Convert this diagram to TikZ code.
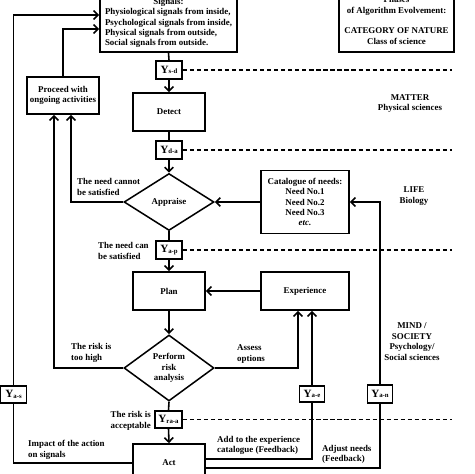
\documentclass[tikz,border=0pt]{standalone}
\usepackage{fontspec}
\setmainfont{Liberation Serif}
\usetikzlibrary{arrows.meta,shapes.geometric}
\newdimen\pxu \pxu=0.3mm
\newcommand\Ylab[1]{{\fontsize{9.5}{10}\selectfont Y}\raisebox{-0.6pt}{\fontsize{5.8}{6}\selectfont #1}}
\tikzset{
  every node/.style={font=\fontsize{7.6}{8.9}\selectfont\bfseries},
  box/.style={draw, line width=1.4pt, inner sep=0pt, minimum width=72\pxu, minimum height=38\pxu, align=center},
  ybox/.style={draw, line width=1.3pt, inner sep=0pt, minimum width=26\pxu, minimum height=18\pxu},
  decide/.style={draw, diamond, line width=1.3pt, inner sep=0pt, align=center},
  link/.style={line width=1.35pt},
  arr/.style={link, -{Straight Barb[length=3.8pt,width=7.5pt]}},
  phase/.style={line width=0.9pt, dash pattern=on 3.6pt off 2.4pt},
  lbl/.style={align=left, inner sep=0pt},
}
\begin{document}
\begin{tikzpicture}[x=0.3mm, y=-0.3mm]
  \clip (0,0) rectangle (474,474);
  \fill [white] (0,0) rectangle (474,474);

  % Boxes of the loop
  \node (signals) [box, minimum width=137\pxu, minimum height=58\pxu] at (168.5,23)
    {\begin{tabular}{@{}l@{}}\multicolumn{1}{@{}c@{}}{Signals:}\\
      Physiological signals from inside,\\
      Psychological signals from inside,\\
      Physical signals from outside,\\
      Social signals from outside.\end{tabular}};
  \node (phases) [box, minimum width=115\pxu, minimum height=63\pxu] at (396.5,20.5)
    {Phases\\of Algorithm Evolvement:\\[8.9pt]CATEGORY OF NATURE\\Class of science};
  \node (ysd) [ybox] at (169,70) {\Ylab{s-d}};
  \node (detect) [box] at (169,112) {Detect};
  \node (yda) [ybox] at (169,150) {\Ylab{d-a}};
  \node (appraise) [decide, minimum width=90\pxu, minimum height=57\pxu] at (169,202) {Appraise};
  \node (needs) [box, minimum width=88\pxu, minimum height=63\pxu] at (305,202)
    {Catalogue of needs:\\Need No.1\\Need No.2\\Need No.3\\\textit{etc.}};
  \node (yap) [ybox] at (169,250) {\Ylab{a-p}};
  \node (plan) [box] at (169,291) {Plan};
  \node (experience) [box, minimum width=88\pxu] at (305,291) {Experience};
  \node (proceed) [box, minimum height=37\pxu] at (63,95.5) {Proceed with\\ongoing activities};
  \node (risk) [decide, minimum width=90\pxu, minimum height=66\pxu] at (169,368) {Perform\\risk\\analysis};
  \node (yraa) [ybox, minimum width=27\pxu, minimum height=17\pxu] at (168.5,419.5) {\Ylab{ra-a}};
  \node (act) [box] at (169,463) {Act};
  \node (yas) [ybox, minimum height=17\pxu] at (13.5,394.5) {\Ylab{a-s}};
  \node (yae) [ybox, minimum width=25\pxu, minimum height=16\pxu] at (312,394) {\Ylab{a-e}};
  \node (yan) [ybox, minimum width=25\pxu] at (380,394) {\Ylab{a-n}};

  % Categories of nature
  \node [align=center] at (410,103.5) {MATTER\\Physical sciences};
  \node [align=center] at (414,196) {LIFE\\Biology};
  \node [align=center] at (412,341.5) {MIND /\\SOCIETY\\Psychology/\\Social sciences};

  % Labels on the branches
  \node [lbl, anchor=west] at (77,187) {The need cannot\\be satisfied};
  \node [lbl, anchor=west] at (98,251) {The need can\\be satisfied};
  \node [lbl, anchor=west] at (71,353) {The risk is\\too high};
  \node [lbl, anchor=west] at (237,354) {Assess\\options};
  \node [lbl, anchor=east, align=center] at (151,421) {The risk is\\acceptable};
  \node [lbl, anchor=west] at (28,450) {Impact of the action\\on signals};
  \node [lbl, anchor=west] at (217,445.5) {Add to the experience\\catalogue (Feedback)};
  \node [lbl, anchor=west] at (322,454.5) {Adjust needs\\(Feedback)};

  % Main column
  \draw [link] (signals.south) -- (ysd.north);
  \draw [arr] (ysd.south) -- (detect.north);
  \draw [link] (detect.south) -- (yda.north);
  \draw [arr] (yda.south) -- (appraise.north);
  \draw [link] (appraise.south) -- (yap.north);
  \draw [arr] (yap.south) -- (plan.north);
  \draw [arr] (plan.south) -- (risk.north);
  \draw [link] (risk.south) -- (yraa.north);
  \draw [arr] (yraa.south) -- (act.north);

  % Side branches
  \draw [arr] (needs.west) -- (appraise.east);
  \draw [arr] (experience.west) -- (plan.east);
  \draw [arr] (appraise.west) -| ([xshift=8\pxu]proceed.south);
  \draw [arr] (risk.west) -| ([xshift=-9\pxu]proceed.south);
  \draw [arr] (risk.east) -| ([xshift=-7\pxu]experience.south);
  \draw [arr] (proceed.north) |- ([yshift=-6\pxu]signals.west);

  % Feedback
  \draw [link] (act.west) -| (yas.south);
  \draw [arr] (yas.north) |- ([yshift=8\pxu]signals.west);
  \draw [link] ([yshift=4\pxu]act.east) -| (yae.south);
  \draw [arr] (yae.north) -- ([xshift=7\pxu]experience.south);
  \draw [link] ([yshift=-5\pxu]act.east) -| (yan.south);
  \draw [arr] (yan.north) |- (needs.east);

  % Phase borders
  \coordinate (rim) at (452,0);
  \foreach \y in {ysd,yda,yap,yraa}
    \draw [phase] (\y.east) -- (\y.east -| rim);
\end{tikzpicture}
\end{document}
